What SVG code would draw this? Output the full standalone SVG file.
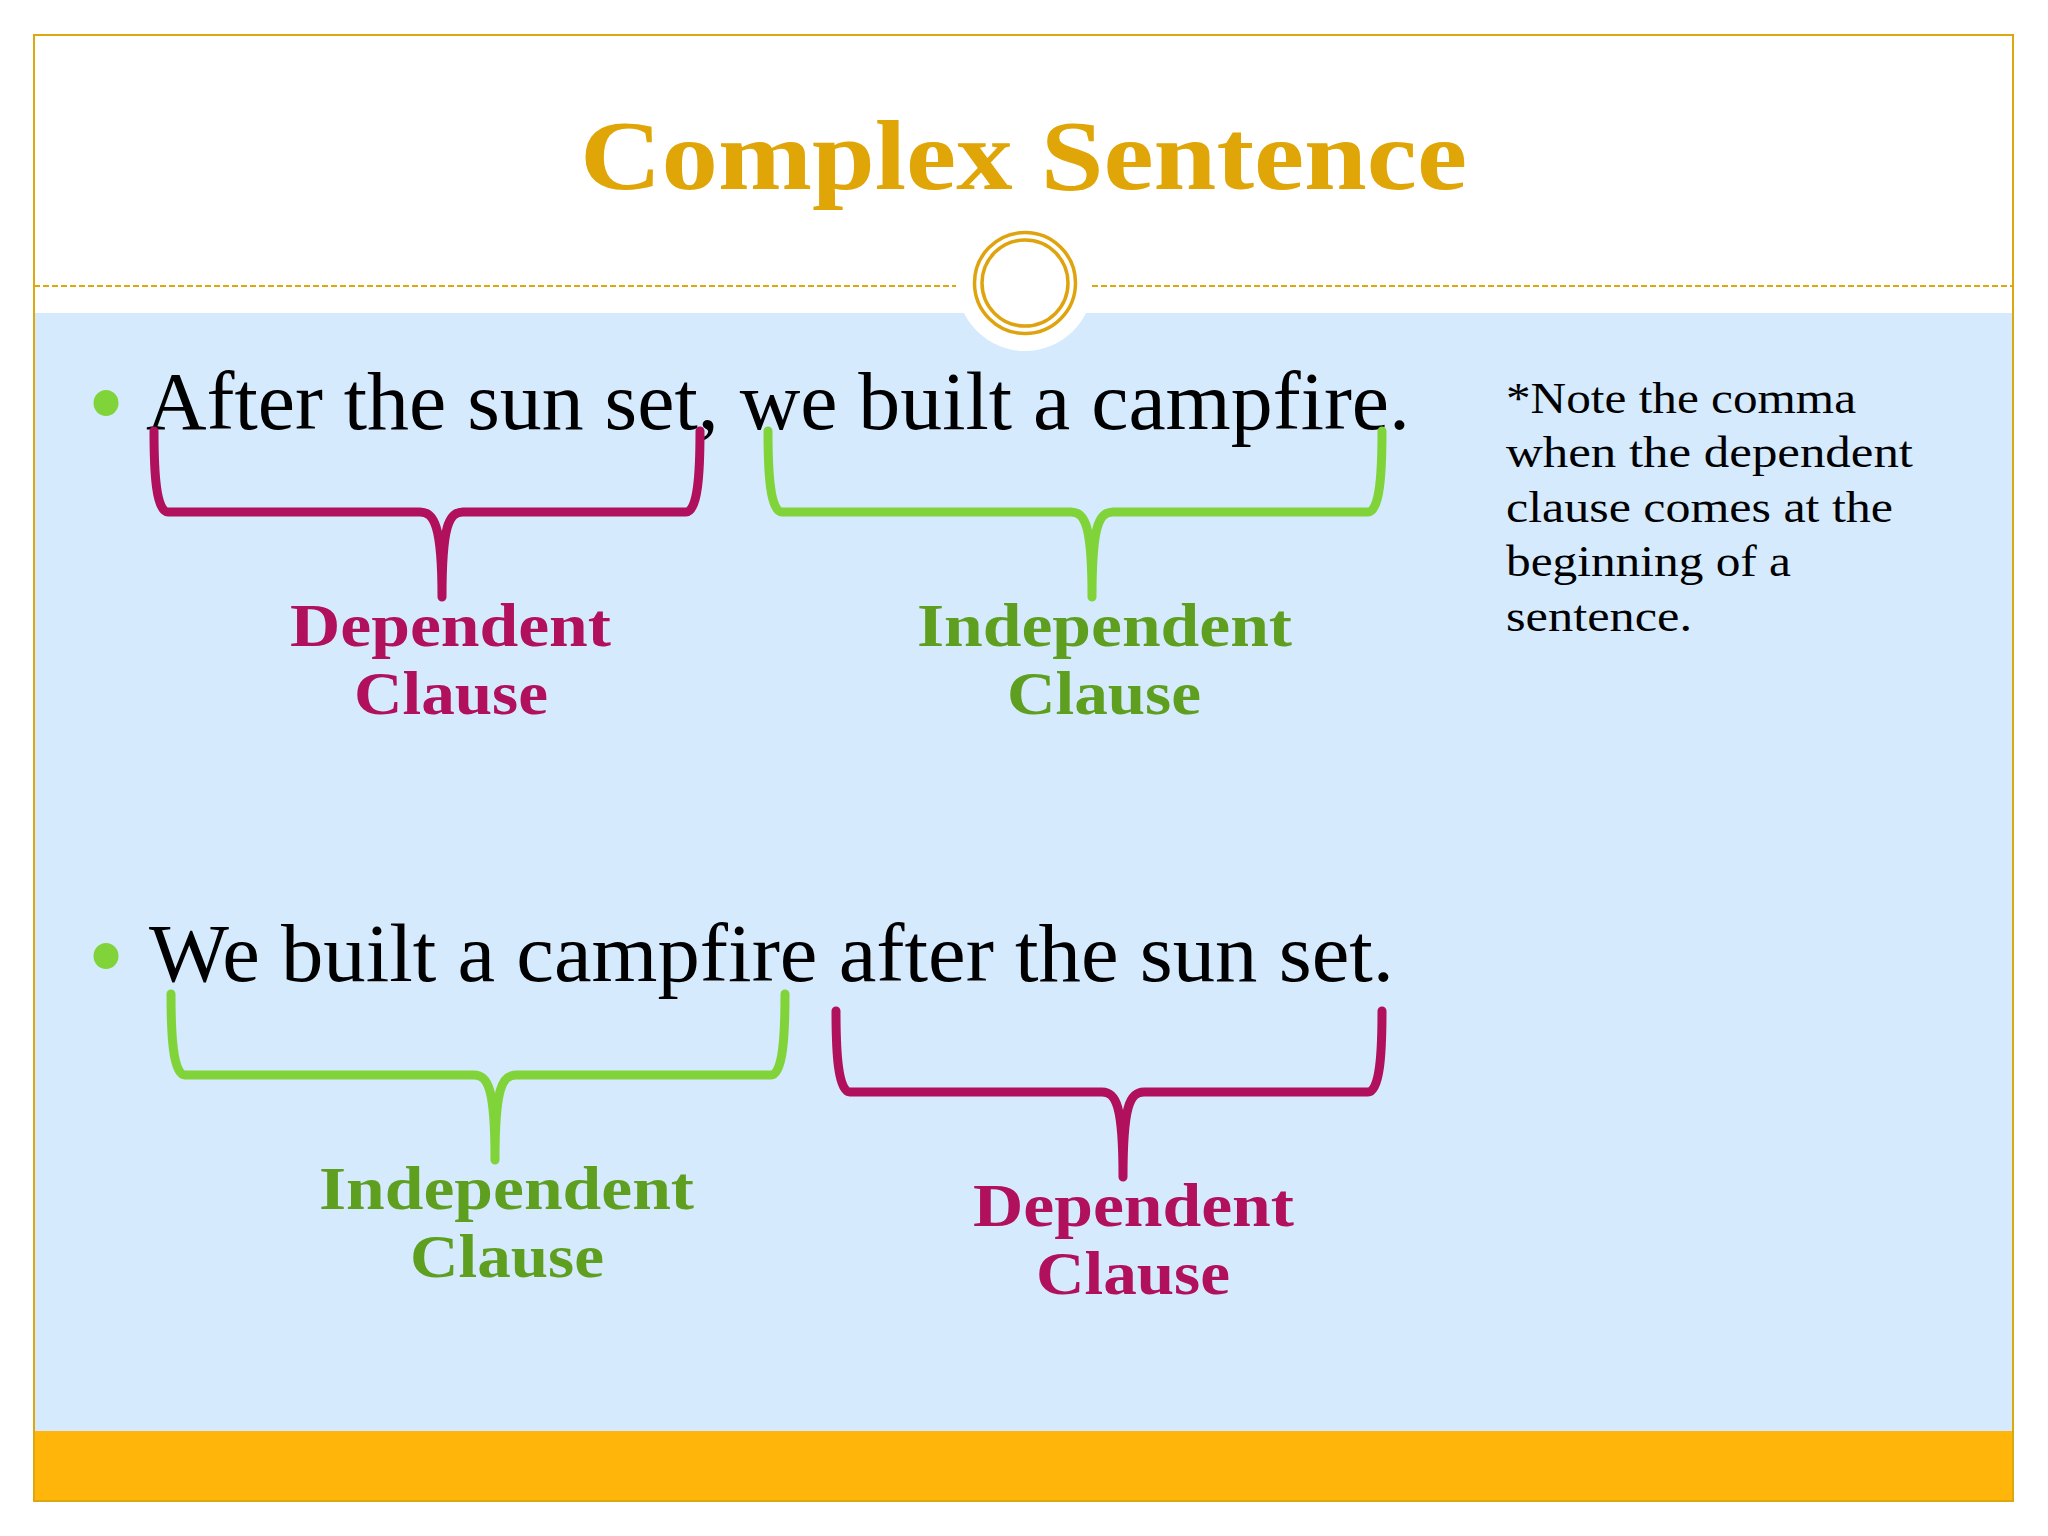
<svg xmlns="http://www.w3.org/2000/svg" width="2048" height="1536" viewBox="0 0 2048 1536">
<style>
text{font-family:"Liberation Serif","DejaVu Serif",serif}
.s{font-size:82px;fill:#000}
.n{font-size:45px;fill:#000}
.l{font-size:62px;font-weight:bold}
.d{fill:#B0105C}.i{fill:#5E9F1F}
.b{fill:none;stroke-width:9;stroke-linecap:round;stroke-linejoin:round}
.bd{stroke:#B0105C}.bi{stroke:#80D43A}
.dot{fill:#80D43A}
</style>
<rect width="2048" height="1536" fill="#fff"/>
<g id="background">
<rect x="34" y="313" width="1979" height="1118" fill="#D5EAFD"/>
<rect x="34" y="1431" width="1979" height="70" fill="#FFB50A"/>
<circle cx="1025" cy="283" r="68" fill="#fff"/>
<rect x="34" y="35" width="1979" height="1466" fill="none" stroke="#DDA80F" stroke-width="2"/>
<path d="M34 286H956M1092 286H2013" stroke="#DDA80F" stroke-width="2" stroke-dasharray="6 3" fill="none"/>
<circle cx="1025" cy="283" r="50.5" fill="none" stroke="#DFA30D" stroke-width="3.5"/>
<circle cx="1025" cy="283" r="43" fill="none" stroke="#DFA30D" stroke-width="3.5"/>
</g>
<g id="title"><text x="580" y="189" font-size="100" font-weight="bold" fill="#E0A507" textLength="887" lengthAdjust="spacingAndGlyphs">Complex Sentence</text></g>
<g id="sentence-1">
<ellipse class="dot" cx="106" cy="403" rx="12.5" ry="13"/>
<text class="s" x="146" y="429" textLength="1264" lengthAdjust="spacingAndGlyphs">After the sun set, we built a campfire.</text>
</g>
<g id="sentence-2">
<ellipse class="dot" cx="106" cy="956" rx="12.5" ry="13"/>
<text class="s" x="149" y="981" textLength="1245" lengthAdjust="spacingAndGlyphs">We built a campfire after the sun set.</text>
</g>
<g id="note">
<text class="n" x="1506" y="413" textLength="350" lengthAdjust="spacingAndGlyphs">*Note the comma</text>
<text class="n" x="1506" y="467" textLength="407" lengthAdjust="spacingAndGlyphs">when the dependent</text>
<text class="n" x="1506" y="522" textLength="387" lengthAdjust="spacingAndGlyphs">clause comes at the</text>
<text class="n" x="1506" y="576" textLength="285" lengthAdjust="spacingAndGlyphs">beginning of a</text>
<text class="n" x="1506" y="631" textLength="186" lengthAdjust="spacingAndGlyphs">sentence.</text>
</g>
<g id="connectors">
<path class="b bd" d="M154 431C154 472 156 512 168 512H420C434 512 442 525 442 597C442 525 449 512 463 512H686C698 512 700 472 700 431"/>
<path class="b bi" d="M768 431C768 472 770 512 782 512H1071C1085 512 1092 525 1092 597C1092 525 1099 512 1113 512H1368C1380 512 1382 472 1382 431"/>
<path class="b bi" d="M171 994C171 1035 173 1075 185 1075H474C488 1075 495 1088 495 1160C495 1088 502 1075 516 1075H771C783 1075 785 1035 785 994"/>
<path class="b bd" d="M836 1011C836 1052 838 1092 850 1092H1102C1116 1092 1123 1105 1123 1177C1123 1105 1130 1092 1144 1092H1368C1380 1092 1382 1052 1382 1011"/>
</g>
<g id="label-dependent-1"><text class="l d" x="290" y="646" textLength="321" lengthAdjust="spacingAndGlyphs">Dependent</text><text class="l d" x="354" y="714" textLength="194" lengthAdjust="spacingAndGlyphs">Clause</text></g>
<g id="label-independent-1"><text class="l i" x="917" y="646" textLength="375" lengthAdjust="spacingAndGlyphs">Independent</text><text class="l i" x="1007" y="714" textLength="194" lengthAdjust="spacingAndGlyphs">Clause</text></g>
<g id="label-independent-2"><text class="l i" x="319" y="1209" textLength="375" lengthAdjust="spacingAndGlyphs">Independent</text><text class="l i" x="410" y="1277" textLength="194" lengthAdjust="spacingAndGlyphs">Clause</text></g>
<g id="label-dependent-2"><text class="l d" x="973" y="1226" textLength="321" lengthAdjust="spacingAndGlyphs">Dependent</text><text class="l d" x="1036" y="1294" textLength="194" lengthAdjust="spacingAndGlyphs">Clause</text></g>
</svg>
